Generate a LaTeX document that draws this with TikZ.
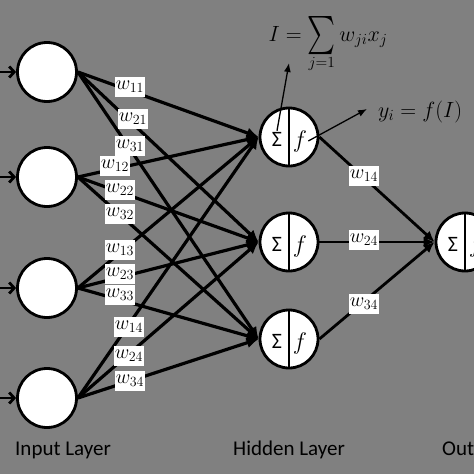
\RequirePackage{fix-cm}
\documentclass[tikz,border=0pt]{standalone}
\usepackage{fontspec}
\usepackage{graphicx}
\newfontfamily\carlito{Carlito}
\usetikzlibrary{arrows.meta}
\definecolor{bg}{RGB}{128,128,128}
\begin{document}
\begin{tikzpicture}[x=1pt,y=-1pt,
  inp/.style={circle,draw,line width=2.8pt,fill=white,minimum size=59pt,inner sep=0pt},
  hid/.style={circle,draw,line width=2.8pt,fill=white,minimum size=58pt,inner sep=0pt},
  conn/.style={line width=3.2pt,-{Latex[length=12pt,width=11pt]}},
  outconn/.style={line width=2.8pt,-{Latex[length=11pt,width=10pt]}},
  inarr/.style={line width=2.8pt,-{Straight Barb[length=5pt,width=11pt]}},
  annot/.style={line width=1.3pt,-{Latex[length=9pt,width=7pt]}},
  wl/.style={fill=white,inner sep=0.5pt,minimum width=27pt,minimum height=20pt,font=\fontsize{20}{22}\selectfont},
  sig/.style={inner sep=1pt,font=\fontsize{22}{25}\selectfont\carlito},
  fn/.style={inner sep=1pt,font=\fontsize{24}{26}\selectfont},
  formula/.style={inner sep=1pt,font=\fontsize{22}{26}\selectfont},
  layer/.style={inner sep=0pt,font=\fontsize{21}{25}\selectfont\carlito}]
\useasboundingbox (0,0) rectangle (474,474);
\fill[bg] (0,0) rectangle (474,474);
\clip (0,0) rectangle (474,474);

% input nodes
\node[inp] (i1) at (47,72) {};
\node[inp] (i2) at (47,177) {};
\node[inp] (i3) at (47,288) {};
\node[inp] (i4) at (47,398) {};
% hidden and output nodes
\node[hid] (h1) at (289,137) {};
\node[hid] (h2) at (289,242) {};
\node[hid] (h3) at (289,339) {};
\node[hid] (o) at (465,242) {};
\foreach \n in {h1,h2,h3,o}{
  \draw[line width=1.2pt] (\n.north) -- (\n.south);
  \node[sig] (\n s) at ([xshift=-12pt,yshift=-2pt]\n.center) {Σ};
  \node[fn] (\n f) at ([xshift=11pt,yshift=-4pt]\n.center) {$f$};
}

% input arrows
\coordinate (c1) at (0,72);
\coordinate (c2) at (0,177);
\coordinate (c3) at (0,288);
\coordinate (c4) at (0,398);
\foreach \k in {1,2,3,4}{\draw[inarr] (c\k) -- (i\k.west);}

% input to hidden
\foreach \i in {1,2,3,4}{
  \foreach \h in {1,2,3}{
    \draw[conn] (i\i.east) -- (h\h.west);
  }
}
% hidden to output
\foreach \h in {1,2,3}{\draw[outconn] (h\h.east) -- (o.west);}

% weight labels
\node[wl] (w11) at (130,87) {$w_{11}$};
\node[wl] (w21) at (133,119) {$w_{21}$};
\node[wl] (w31) at (130,146) {$w_{31}$};
\node[wl] (w12) at (115,166) {$w_{12}$};
\node[wl] (w22) at (120,190) {$w_{22}$};
\node[wl] (w32) at (120,214) {$w_{32}$};
\node[wl] (w13) at (120,250) {$w_{13}$};
\node[wl] (w23) at (120,274) {$w_{23}$};
\node[wl] (w33) at (120,295) {$w_{33}$};
\node[wl] (w14) at (129,327) {$w_{14}$};
\node[wl] (w24) at (129,356) {$w_{24}$};
\node[wl] (w34) at (130,381) {$w_{34}$};
\node[wl] (v14) at (364,176) {$w_{14}$};
\node[wl] (v24) at (364,240) {$w_{24}$};
\node[wl] (v34) at (364,304) {$w_{34}$};

% annotations
\node[formula] (sumeq) at (328,44) {$I = \mathop{\vcenter{\hbox{\resizebox{28pt}{40pt}{$\sum$}}}}\limits_{j=1} w_{ji}x_j$};
\node[formula,anchor=west] (yeq) at (377,112) {$y_i = f(I)$};
\coordinate (sumtip) at (289,63);
\coordinate (ytip) at (367,109);
\draw[annot] (h1s.north) -- (sumtip);
\draw[annot] (h1f.east) -- (ytip);

% layer labels
\node[layer,anchor=base west] (lin) at (15,455) {Input Layer};
\node[layer,anchor=base west] (lhid) at (233,455) {Hidden Layer};
\node[layer,anchor=base west] (lout) at (442,455) {Output Layer};
\end{tikzpicture}
\end{document}
